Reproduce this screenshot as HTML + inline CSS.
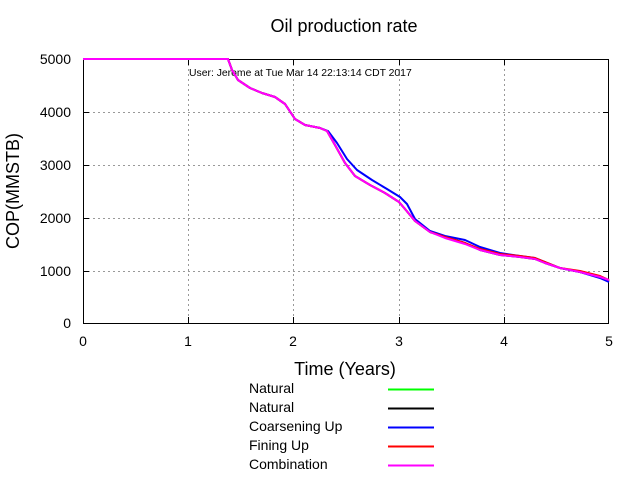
<!DOCTYPE html><html><head><style>body{margin:0;background:#fff}svg{display:block}text{font-family:"Liberation Sans",sans-serif}</style></head><body>
<svg width="640" height="480" viewBox="0 0 640 480">
<rect width="640" height="480" fill="#fff"/>
<g stroke="#999" stroke-dasharray="2,3" stroke-width="1">
<line x1="188.5" y1="59" x2="188.5" y2="323"/><line x1="293.5" y1="59" x2="293.5" y2="323"/><line x1="399.5" y1="59" x2="399.5" y2="323"/><line x1="504.5" y1="59" x2="504.5" y2="323"/>
<line x1="83" y1="112.5" x2="609" y2="112.5"/><line x1="83" y1="165.5" x2="609" y2="165.5"/><line x1="83" y1="218.5" x2="609" y2="218.5"/><line x1="83" y1="271.5" x2="609" y2="271.5"/>
</g>
<rect x="83.5" y="59.5" width="525" height="264" fill="none" stroke="#000"/>
<g stroke="#000">
<line x1="188.5" y1="323" x2="188.5" y2="317"/><line x1="293.5" y1="323" x2="293.5" y2="317"/><line x1="399.5" y1="323" x2="399.5" y2="317"/><line x1="504.5" y1="323" x2="504.5" y2="317"/>
<line x1="188.5" y1="59" x2="188.5" y2="65"/><line x1="293.5" y1="59" x2="293.5" y2="65"/><line x1="399.5" y1="59" x2="399.5" y2="65"/><line x1="504.5" y1="59" x2="504.5" y2="65"/>
<line x1="83" y1="112.5" x2="89" y2="112.5"/><line x1="83" y1="165.5" x2="89" y2="165.5"/><line x1="83" y1="218.5" x2="89" y2="218.5"/><line x1="83" y1="271.5" x2="89" y2="271.5"/>
<line x1="609" y1="112.5" x2="603" y2="112.5"/><line x1="609" y1="165.5" x2="603" y2="165.5"/><line x1="609" y1="218.5" x2="603" y2="218.5"/><line x1="609" y1="271.5" x2="603" y2="271.5"/>
</g>
<g font-size="14" text-anchor="end">
<text x="71" y="64">5000</text><text x="71" y="117">4000</text><text x="71" y="170">3000</text><text x="71" y="223">2000</text><text x="71" y="276">1000</text><text x="71" y="328">0</text>
</g>
<g font-size="14" text-anchor="middle">
<text x="83" y="346">0</text><text x="188" y="346">1</text><text x="293" y="346">2</text><text x="399" y="346">3</text><text x="504" y="346">4</text><text x="609" y="346">5</text>
</g>
<text x="344" y="32" font-size="18" text-anchor="middle">Oil production rate</text>
<text x="345" y="375" font-size="18" text-anchor="middle">Time (Years)</text>
<text transform="translate(19,191) rotate(-90)" font-size="18" text-anchor="middle">COP(MMSTB)</text>
<text x="189" y="76" font-size="10.4">User: Jerome at Tue Mar 14 22:13:14 CDT 2017</text>
<g fill="none" stroke-width="2" stroke-linejoin="round">
<polyline stroke="#000" points="83,59 228,59 232,70 238,80 250,88 262,93 275,97 285,104 295,119 305,125 320,128 327,131 335,145 345,163 355,176 370,185 385,193 399,202 405,209 415,221 430,232 445,237 465,243 480,250 500,255 520,257 535,259 545,263 560,268 580,272 600,277 609,281"/>
<polyline stroke="#00f" points="83,59 228,59 232,70 238,80 250,88 262,93 275,97 285,104 295,119 305,125 320,128 328,131 337,143 347,159 357,170 372,180 387,189 400,197 407,204 415,219 430,231 445,236 465,240 480,247 500,253 520,256 535,258 545,262 560,268 580,272 600,278 609,282"/>
<polyline stroke="#f00" points="83,59 228,59 232,70 238,80 250,88 262,93 275,97 285,104 295,119 305,125 320,128 327,131 335,145 345,163 355,176 370,185 385,193 399,202 405,209 415,221 430,232 445,237 465,243 480,249 500,254 520,256 535,258 545,262 560,268 580,271 600,276 609,280"/>
<polyline stroke="#f0f" points="83,59 228,59 232,70 238,80 250,88 262,93 275,97 285,104 295,119 305,125 320,128 327,131 335,145 345,163 355,176 370,185 385,193 399,202 405,209 415,221 430,232 445,238 465,244 480,250 500,255 520,257 535,259 545,263 560,268 580,272 600,277 609,280"/>
</g>
<g font-size="14">
<text x="249" y="393">Natural</text><text x="249" y="412">Natural</text><text x="249" y="431">Coarsening Up</text><text x="249" y="450">Fining Up</text><text x="249" y="469">Combination</text>
</g>
<g stroke-width="2">
<line x1="388" y1="389.5" x2="434" y2="389.5" stroke="#0f0"/>
<line x1="388" y1="408.5" x2="434" y2="408.5" stroke="#000"/>
<line x1="388" y1="427.5" x2="434" y2="427.5" stroke="#00f"/>
<line x1="388" y1="446.5" x2="434" y2="446.5" stroke="#f00"/>
<line x1="388" y1="465.5" x2="434" y2="465.5" stroke="#f0f"/>
</g>
</svg></body></html>
